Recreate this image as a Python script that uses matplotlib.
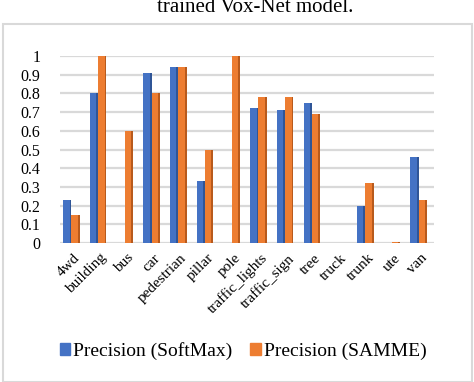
import matplotlib
matplotlib.use("Agg")
import matplotlib.pyplot as plt
import numpy as np
from matplotlib.patches import Rectangle, Patch

categories = ["4wd", "building", "bus", "car", "pedestrian", "pillar", "pole",
              "traffic_lights", "traffic_sign", "tree", "truck", "trunk", "ute", "van"]
softmax = [0.23, 0.80, 0.0, 0.91, 0.94, 0.33, 0.0, 0.72, 0.71, 0.75, 0.0, 0.20, 0.0, 0.46]
samme = [0.15, 1.00, 0.60, 0.80, 0.94, 0.50, 1.00, 0.78, 0.78, 0.69, 0.0, 0.32, 0.005, 0.23]
yticks = [0, 0.1, 0.2, 0.3, 0.4, 0.5, 0.6, 0.7, 0.8, 0.9, 1]
ytick_labels = ["0", "0.1", "0.2", "0.3", "0.4", "0.5", "0.6", "0.7", "0.8", "0.9", "1"]

blue, blue_d = "#4472C4", "#2F5597"
orange, orange_d = "#ED7D31", "#B85A1C"

plt.rcParams["font.family"] = ["Liberation Serif", "DejaVu Serif"]

W, H = 474, 382
fig = plt.figure(figsize=(W / 100, H / 100), dpi=100)
ax = fig.add_axes([60 / W, 1 - 243 / H, (434 - 60) / W, (243 - 56) / H])

x = np.arange(len(categories))
w = 0.31
shift = -0.07
side = 0.07
ax.bar(x + shift - w / 2, softmax, w, color=blue, zorder=3)
ax.bar(x + shift - side / 2, softmax, side, color=blue_d, zorder=3)
ax.bar(x + shift + w / 2, samme, w, color=orange, zorder=3)
ax.bar(x + shift + w - side / 2, samme, side, color=orange_d, zorder=3)

ax.set_xlim(-0.5, len(categories) - 0.5)
ax.set_ylim(0, 1.0)
ax.set_yticks(yticks)
ax.set_yticklabels(ytick_labels, fontsize=11.5)
ax.set_xticks(x)
ax.set_xticklabels(categories, rotation=45, ha="right", rotation_mode="anchor", fontsize=11)
ax.tick_params(axis="both", length=0)
ax.tick_params(axis="y", pad=14)
ax.tick_params(axis="x", pad=6)
ax.grid(axis="y", color="#d9d9d9", linewidth=1.6, zorder=0)
for s in ax.spines.values():
    s.set_visible(False)

handles = [Patch(color=blue, label="Precision (SoftMax)"),
           Patch(color=orange, label="Precision (SAMME)")]
fig.legend(handles=handles, loc="center", bbox_to_anchor=(243 / W, 1 - 351 / H),
           ncol=2, frameon=False, fontsize=14, handlelength=0.55, handleheight=0.55,
           handletextpad=0.15, columnspacing=0.9)

fig.patches.append(Rectangle((3 / W, 0), (472 - 3) / W, 1 - 24 / H,
                             transform=fig.transFigure, fill=False,
                             edgecolor="#d9d9d9", linewidth=1.5))
fig.text(255 / W, 1 - 12.5 / H, "trained Vox-Net model.", ha="center", va="baseline",
         fontsize=15)

fig.savefig("out.png", dpi=100)
